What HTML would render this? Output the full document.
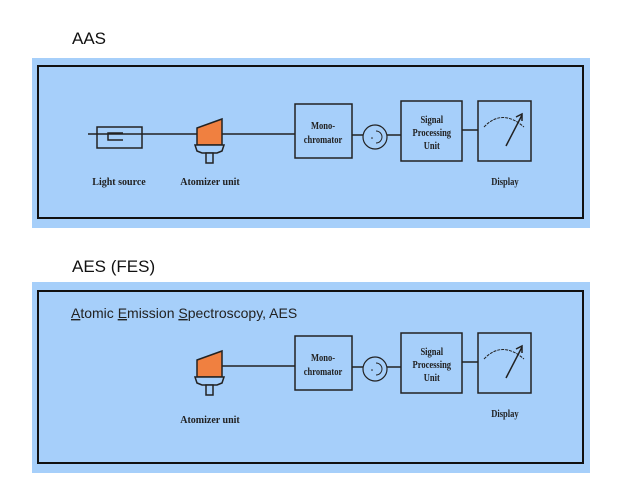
<!DOCTYPE html>
<html><head><style>
body{margin:0;background:#fff;width:638px;height:479px;overflow:hidden;font-family:"Liberation Sans",sans-serif}
</style></head><body>
<svg width="638" height="479" xmlns="http://www.w3.org/2000/svg">
<defs>
<g id="atom">
<polygon points="197,128 222,119 222,145 197,145" fill="#f08040" stroke="#222" stroke-width="1.5"/>
<path d="M195,145 L224,145 L222,151 L217,153 L202,153 L197,151 Z" fill="#a6cffa" stroke="#222" stroke-width="1.5"/>
<rect x="206" y="153" width="7" height="10" fill="#a6cffa" stroke="#222" stroke-width="1.5"/>
</g>
<g id="chain" font-family="Liberation Serif,serif" font-weight="bold" font-size="10" fill="#222" text-anchor="middle">
<rect x="295" y="104" width="57" height="54" fill="none" stroke="#222" stroke-width="1.5"/>
<text x="323" y="129" transform="scale(0.85,1) translate(57,0)">Mono-</text>
<text x="323" y="143" transform="scale(0.85,1) translate(57,0)">chromator</text>
<line x1="352" y1="135" x2="363" y2="135" stroke="#222" stroke-width="1.5"/>
<circle cx="375" cy="137" r="12" fill="none" stroke="#222" stroke-width="1.2"/>
<path d="M376,131 A6,6 0 0 1 376,143" fill="none" stroke="#222" stroke-width="1"/>
<circle cx="372" cy="138" r="0.8" fill="#222"/>
<line x1="387" y1="135" x2="401" y2="135" stroke="#222" stroke-width="1.5"/>
<rect x="401" y="101" width="61" height="60" fill="none" stroke="#222" stroke-width="1.5"/>
<text x="432" y="123" transform="scale(0.85,1) translate(76,0)">Signal</text>
<text x="432" y="136" transform="scale(0.85,1) translate(76,0)">Processing</text>
<text x="432" y="149" transform="scale(0.85,1) translate(76,0)">Unit</text>
<line x1="462" y1="130" x2="478" y2="130" stroke="#222" stroke-width="1.5"/>
<rect x="478" y="101" width="53" height="60" fill="none" stroke="#222" stroke-width="1.5"/>
<path d="M484,127 Q502,108 524,127" fill="none" stroke="#222" stroke-width="1" stroke-dasharray="3,1"/>
<line x1="506" y1="146" x2="522" y2="115" stroke="#222" stroke-width="1.5"/>
<path d="M516,117 L522,114 L522,121" fill="none" stroke="#222" stroke-width="1.5"/>
<text x="505" y="185" transform="scale(0.85,1) translate(89,0)">Display</text>
</g>
</defs>
<text x="72" y="44" font-family="Liberation Sans,sans-serif" font-size="17" fill="#111">AAS</text>
<rect x="32" y="58" width="558" height="170" fill="#a6cffa"/>
<rect x="38" y="66" width="545" height="152" fill="none" stroke="#111" stroke-width="2"/>
<line x1="88" y1="134" x2="295" y2="134" stroke="#222" stroke-width="1.5"/>
<rect x="97" y="127" width="45" height="21" fill="none" stroke="#222" stroke-width="1.5"/>
<path d="M123,133 L108,133 L108,140 L123,140" fill="none" stroke="#222" stroke-width="1.5"/>
<use href="#atom"/>
<use href="#chain"/>
<g font-family="Liberation Serif,serif" font-weight="bold" font-size="10" fill="#222" text-anchor="middle">
<text x="119" y="185">Light source</text>
<text x="210" y="185">Atomizer unit</text>
</g>
<text x="72" y="272" font-family="Liberation Sans,sans-serif" font-size="17" fill="#111">AES (FES)</text>
<rect x="32" y="282" width="558" height="191" fill="#a6cffa"/>
<rect x="38" y="291" width="545" height="172" fill="none" stroke="#111" stroke-width="2"/>
<text x="71" y="318" font-family="Liberation Sans,sans-serif" font-size="14" fill="#222"><tspan text-decoration="underline">A</tspan>tomic <tspan text-decoration="underline">E</tspan>mission <tspan text-decoration="underline">S</tspan>pectroscopy, AES</text>
<g transform="translate(0,232)">
<line x1="222" y1="134" x2="295" y2="134" stroke="#222" stroke-width="1.5"/>
<use href="#atom"/>
<use href="#chain"/>
<text x="210" y="191" font-family="Liberation Serif,serif" font-weight="bold" font-size="10" fill="#222" text-anchor="middle">Atomizer unit</text>
</g>
</svg>
</body></html>
